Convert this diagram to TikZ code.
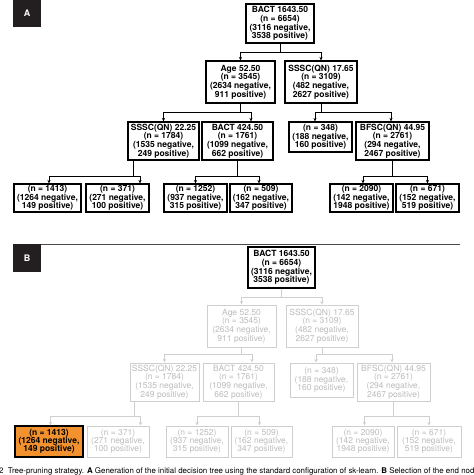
\documentclass[tikz,border=0pt]{standalone}
\usepackage{fontspec}
\setmainfont{TeX Gyre Heros}
\usetikzlibrary{arrows.meta}
\definecolor{gline}{HTML}{CFCFCF}
\definecolor{gtext}{HTML}{BDBDBD}
\definecolor{orangefill}{HTML}{F2922E}
\definecolor{labelfill}{HTML}{231F20}
\definecolor{rulecol}{HTML}{4A4A4A}
\tikzset{
  nbox/.style={draw=black, line width=1.2pt, fill=white, font=\bfseries\fontsize{8.5}{8.7}\selectfont, align=center, inner sep=0pt},
  obox/.style={nbox, fill=orangefill},
  gbox/.style={draw=gline, line width=1pt, fill=white, text=gtext, font=\fontsize{8.5}{8.7}\selectfont, align=center, inner sep=0pt},
  leaf/.style={font=\bfseries\fontsize{8.5}{8.2}\selectfont},
  gleaf/.style={font=\fontsize{8.5}{8.2}\selectfont},
  conn/.style={line width=0.9pt, -{Stealth[length=3.5pt,width=3.2pt]}},
  gconn/.style={conn, draw=gline},
  panellabel/.style={fill=labelfill, text=white, font=\bfseries\fontsize{9}{9}\selectfont, minimum width=28pt, minimum height=27pt, inner sep=0pt},
}
% box macro: style, name, x1, y1, x2, y2, text
\newcommand{\bx}[7]{%
  \pgfmathsetmacro{\bxw}{#5-#3}\pgfmathsetmacro{\bxh}{#6-#4}%
  \node[#1, minimum width=\bxw pt, minimum height=\bxh pt] (#2) at ({(#3+#5)/2},{(#4+#6)/2}) {#7};}
\begin{document}
\begin{tikzpicture}[x=1pt,y=-1pt]
\useasboundingbox (0,0) rectangle (474,475);
\clip (0,0) rectangle (474,475);
% ---------------- Panel A ----------------
\node[panellabel] (labA) at (27,13.5) {A};
\bx{nbox}{rootA}{246}{4}{314}{43}{BACT 1643.50\\(n = 6654)\\(3116 negative,\\3538 positive)}
\bx{nbox}{ageA}{206}{61}{275}{103}{Age 52.50\\(n = 3545)\\(2634 negative,\\911 positive)}
\bx{nbox}{sssA}{285}{61}{357}{103}{SSSC(QN) 17.65\\(n = 3109)\\(482 negative,\\2627 positive)}
\bx{nbox}{s22A}{128}{122}{199}{160}{SSSC(QN) 22.25\\(n = 1784)\\(1535 negative,\\249 positive)}
\bx{nbox}{b424A}{202}{122}{273}{160}{BACT 424.50\\(n = 1761)\\(1099 negative,\\662 positive)}
\bx{nbox}{n348A}{289}{122}{352}{152}{(n = 348)\\(188 negative,\\160 positive)}
\bx{nbox}{bfsA}{356}{122}{429}{160}{BFSC(QN) 44.95\\(n = 2761)\\(294 negative,\\2467 positive)}
\bx{nbox,leaf}{l1A}{14}{184}{81}{212}{(n = 1413)\\(1264 negative,\\149 positive)}
\bx{nbox,leaf}{l2A}{86}{184}{149}{212}{(n = 371)\\(271 negative,\\100 positive)}
\bx{nbox,leaf}{l3A}{164}{184}{227}{212}{(n = 1252)\\(937 negative,\\315 positive)}
\bx{nbox,leaf}{l4A}{230}{184}{292}{212}{(n = 509)\\(162 negative,\\347 positive)}
\bx{nbox,leaf}{l5A}{330}{184}{393}{212}{(n = 2090)\\(142 negative,\\1948 positive)}
\bx{nbox,leaf}{l6A}{396}{184}{459}{212}{(n = 671)\\(152 negative,\\519 positive)}
% connectors A
\draw[conn] (rootA.south) -- ++(0,9) -| (ageA.north);
\draw[conn] (rootA.south) -- ++(0,9) -| (sssA.north);
\draw[conn] (ageA.south) -- ++(0,9) -| (s22A.north);
\draw[conn] (ageA.south) -- ++(0,9) -| ([xshift=13.5pt]b424A.north);
\draw[conn] (sssA.south) -- ++(0,9) -| ([xshift=-5.5pt]n348A.north);
\draw[conn] (sssA.south) -- ++(0,9) -| ([xshift=-1.5pt]bfsA.north);
\draw[conn] ([xshift=-30.5pt]s22A.south) -- ++(0,16) -| ([xshift=1.5pt]l1A.north);
\draw[conn] ([xshift=-30.5pt]s22A.south) -- ++(0,16) -| ([xshift=22.5pt]l2A.north);
\draw[conn] (b424A.south) -- ++(0,16) -| (l3A.north);
\draw[conn] (b424A.south) -- ++(0,16) -| ([xshift=-2pt]l4A.north);
\draw[conn] (bfsA.south) -- ++(0,16) -| ([xshift=1.5pt]l5A.north);
\draw[conn] (bfsA.south) -- ++(0,16) -| (l6A.north);
% ---------------- Panel B ----------------
\draw[rulecol, line width=0.9pt] (13,244) -- (460,244);
\node[panellabel, minimum height=28pt] (labB) at (27,258) {B};
\bx{nbox}{rootB}{248}{247}{315}{288}{BACT 1643.50\\(n = 6654)\\(3116 negative,\\3538 positive)}
\bx{gbox}{ageB}{207}{305}{276}{347}{Age 52.50\\(n = 3545)\\(2634 negative,\\911 positive)}
\bx{gbox}{sssB}{286}{305}{358}{347}{SSSC(QN) 17.65\\(n = 3109)\\(482 negative,\\2627 positive)}
\bx{gbox}{s22B}{130}{363}{199}{401}{SSSC(QN) 22.25\\(n = 1784)\\(1535 negative,\\249 positive)}
\bx{gbox}{b424B}{203}{363}{274}{401}{BACT 424.50\\(n = 1761)\\(1099 negative,\\662 positive)}
\bx{gbox}{n348B}{290}{363}{353}{397}{(n = 348)\\(188 negative,\\160 positive)}
\bx{gbox}{bfsB}{357}{363}{430}{401}{BFSC(QN) 44.95\\(n = 2761)\\(294 negative,\\2467 positive)}
\bx{obox,leaf}{l1B}{15}{426}{83}{457}{(n = 1413)\\(1264 negative,\\149 positive)}
\bx{gbox,gleaf}{l2B}{87}{426}{149}{457}{(n = 371)\\(271 negative,\\100 positive)}
\bx{gbox,gleaf}{l3B}{166}{426}{228}{457}{(n = 1252)\\(937 negative,\\315 positive)}
\bx{gbox,gleaf}{l4B}{231}{426}{292}{457}{(n = 509)\\(162 negative,\\347 positive)}
\bx{gbox,gleaf}{l5B}{332}{426}{394}{457}{(n = 2090)\\(142 negative,\\1948 positive)}
\bx{gbox,gleaf}{l6B}{397}{426}{461}{457}{(n = 671)\\(152 negative,\\519 positive)}
% connectors B
\draw[gconn] (rootB.south) -- ++(0,9) -| (ageB.north);
\draw[gconn] (rootB.south) -- ++(0,9) -| (sssB.north);
\draw[gconn] (ageB.south) -- ++(0,7) -| (s22B.north);
\draw[gconn] (ageB.south) -- ++(0,7) -| ([xshift=13.5pt]b424B.north);
\draw[gconn] (sssB.south) -- ++(0,7) -| ([xshift=-5.5pt]n348B.north);
\draw[gconn] (sssB.south) -- ++(0,7) -| ([xshift=-1.5pt]bfsB.north);
\draw[gconn] ([xshift=-30.5pt]s22B.south) -- ++(0,15) -| ([xshift=1.5pt]l1B.north);
\draw[gconn] ([xshift=-30.5pt]s22B.south) -- ++(0,15) -| ([xshift=22.5pt]l2B.north);
\draw[gconn] (b424B.south) -- ++(0,15) -| (l3B.north);
\draw[gconn] (b424B.south) -- ++(0,15) -| ([xshift=-2pt]l4B.north);
\draw[gconn] (bfsB.south) -- ++(0,15) -| ([xshift=1.5pt]l5B.north);
\draw[gconn] (bfsB.south) -- ++(0,15) -| (l6B.north);
% caption
\node[anchor=base west, inner sep=0pt, font=\fontsize{7.9}{9}\selectfont] (cap) at (-1,473.2) {2\ \ Tree-pruning strategy. \textbf{A} Generation of the initial decision tree using the standard configuration of sk-learn. \textbf{B} Selection of the end node};
\end{tikzpicture}
\end{document}
